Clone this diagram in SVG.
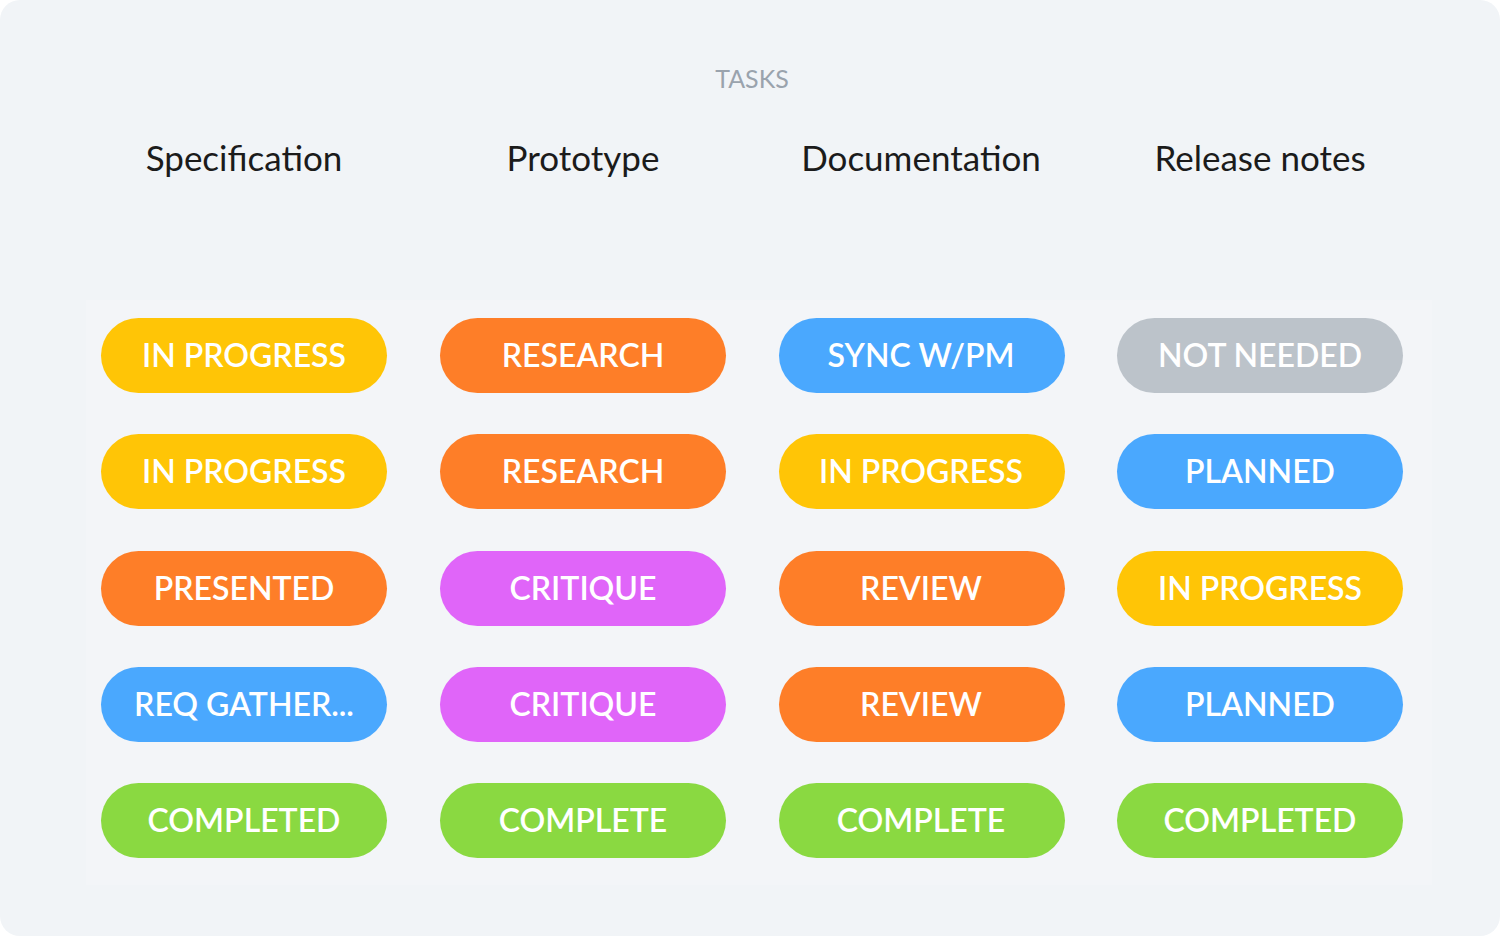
<svg xmlns="http://www.w3.org/2000/svg" width="1500" height="936" viewBox="0 0 1500 936">
<style>
text{font-family:"Lato","Liberation Sans",sans-serif;text-anchor:middle}
.h{font-size:35px;fill:#1b1b1b}
.t{font-size:25px;fill:#9aa3ad}
.p{font-size:32px;fill:#fff;font-weight:600}
.y{fill:#ffc506}.o{fill:#fe7e28}.b{fill:#4aa8fe}.g{fill:#bcc3ca}.v{fill:#e065f9}.gr{fill:#8ad941}
</style>
<rect width="1500" height="936" fill="#ffffff"/>
<rect x="0" y="0" width="1500" height="936" rx="20" fill="#f1f4f7"/>
<rect x="86" y="300" width="1346" height="585" fill="#f3f5f8"/>
<text class="t" x="752" y="88">TASKS</text>
<text class="h" x="244" y="171">Specification</text>
<text class="h" x="583" y="171">Prototype</text>
<text class="h" x="921" y="171">Documentation</text>
<text class="h" x="1260" y="171">Release notes</text>
<g id="c1r1"><rect class="y" x="101" y="318" width="286" height="75" rx="37.5"/><text class="p" x="244" y="367">IN PROGRESS</text></g>
<g id="c1r2"><rect class="y" x="101" y="434" width="286" height="75" rx="37.5"/><text class="p" x="244" y="483">IN PROGRESS</text></g>
<g id="c1r3"><rect class="o" x="101" y="551" width="286" height="75" rx="37.5"/><text class="p" x="244" y="600">PRESENTED</text></g>
<g id="c1r4"><rect class="b" x="101" y="667" width="286" height="75" rx="37.5"/><text class="p" x="244" y="716">REQ GATHER...</text></g>
<g id="c1r5"><rect class="gr" x="101" y="783" width="286" height="75" rx="37.5"/><text class="p" x="244" y="832">COMPLETED</text></g>
<g id="c2r1"><rect class="o" x="440" y="318" width="286" height="75" rx="37.5"/><text class="p" x="583" y="367">RESEARCH</text></g>
<g id="c2r2"><rect class="o" x="440" y="434" width="286" height="75" rx="37.5"/><text class="p" x="583" y="483">RESEARCH</text></g>
<g id="c2r3"><rect class="v" x="440" y="551" width="286" height="75" rx="37.5"/><text class="p" x="583" y="600">CRITIQUE</text></g>
<g id="c2r4"><rect class="v" x="440" y="667" width="286" height="75" rx="37.5"/><text class="p" x="583" y="716">CRITIQUE</text></g>
<g id="c2r5"><rect class="gr" x="440" y="783" width="286" height="75" rx="37.5"/><text class="p" x="583" y="832">COMPLETE</text></g>
<g id="c3r1"><rect class="b" x="779" y="318" width="286" height="75" rx="37.5"/><text class="p" x="921" y="367">SYNC W/PM</text></g>
<g id="c3r2"><rect class="y" x="779" y="434" width="286" height="75" rx="37.5"/><text class="p" x="921" y="483">IN PROGRESS</text></g>
<g id="c3r3"><rect class="o" x="779" y="551" width="286" height="75" rx="37.5"/><text class="p" x="921" y="600">REVIEW</text></g>
<g id="c3r4"><rect class="o" x="779" y="667" width="286" height="75" rx="37.5"/><text class="p" x="921" y="716">REVIEW</text></g>
<g id="c3r5"><rect class="gr" x="779" y="783" width="286" height="75" rx="37.5"/><text class="p" x="921" y="832">COMPLETE</text></g>
<g id="c4r1"><rect class="g" x="1117" y="318" width="286" height="75" rx="37.5"/><text class="p" x="1260" y="367">NOT NEEDED</text></g>
<g id="c4r2"><rect class="b" x="1117" y="434" width="286" height="75" rx="37.5"/><text class="p" x="1260" y="483">PLANNED</text></g>
<g id="c4r3"><rect class="y" x="1117" y="551" width="286" height="75" rx="37.5"/><text class="p" x="1260" y="600">IN PROGRESS</text></g>
<g id="c4r4"><rect class="b" x="1117" y="667" width="286" height="75" rx="37.5"/><text class="p" x="1260" y="716">PLANNED</text></g>
<g id="c4r5"><rect class="gr" x="1117" y="783" width="286" height="75" rx="37.5"/><text class="p" x="1260" y="832">COMPLETED</text></g>
<g id="connectors"/>
</svg>
